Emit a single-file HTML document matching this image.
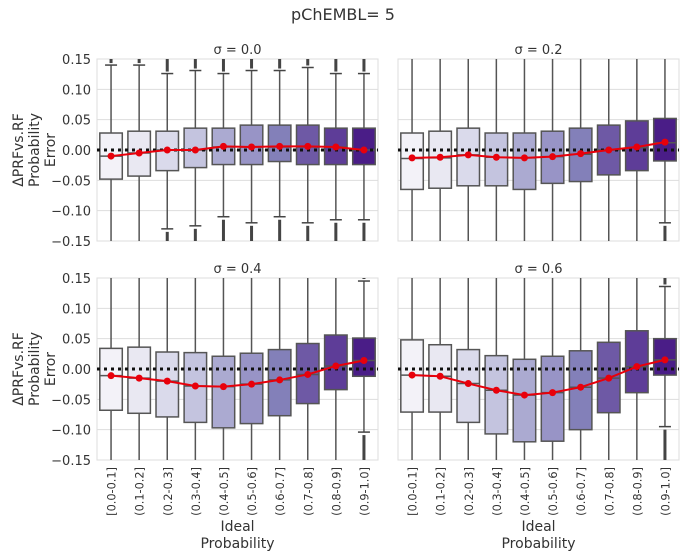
<!DOCTYPE html>
<html><head><meta charset="utf-8"><style>
body{margin:0;background:#fff;font-family:"Liberation Sans","DejaVu Sans",sans-serif;}
svg text{font-family:"DejaVu Sans","Liberation Sans",sans-serif;fill:#333;}
</style></head><body>
<svg id="c" width="685" height="553" xmlns="http://www.w3.org/2000/svg">
<text x="343" y="20" font-size="16" text-anchor="middle">pChEMBL= 5</text>
</svg>
<script>
const categories=["[0.0-0.1]","(0.1-0.2]","(0.2-0.3]","(0.3-0.4]","(0.4-0.5]","(0.5-0.6]","(0.6-0.7]","(0.7-0.8]","(0.8-0.9]","(0.9-1.0]"];
const yTicks=[0.15,0.10,0.05,0.00,-0.05,-0.10,-0.15];
const yTickLabels=["0.15","0.10","0.05","0.00","\u22120.05","\u22120.10","\u22120.15"];
const sigmas=["σ = 0.0","σ = 0.2","σ = 0.4","σ = 0.6"];
const q3=[[.028,.031,.031,.036,.036,.041,.041,.041,.036,.036],[.028,.031,.036,.028,.028,.031,.036,.041,.048,.052],[.034,.036,.028,.027,.021,.026,.032,.042,.056,.051],[.048,.040,.032,.022,.016,.021,.030,.044,.063,.050]];
const q1=[[-.048,-.043,-.034,-.029,-.024,-.024,-.019,-.024,-.024,-.024],[-.065,-.063,-.059,-.059,-.065,-.055,-.052,-.041,-.034,-.018],[-.068,-.073,-.079,-.088,-.097,-.090,-.077,-.057,-.034,-.012],[-.071,-.071,-.088,-.107,-.120,-.119,-.100,-.072,-.039,-.010]];
const medians=[[-.010,-.005,0,0,.005,.005,.005,.005,.005,0],[-.014,-.013,-.008,-.012,-.013,-.011,-.007,0,.004,.012],[-.011,-.015,-.020,-.028,-.029,-.025,-.018,-.009,.005,.014],[-.010,-.012,-.024,-.035,-.043,-.039,-.030,-.015,.004,.015]];
const means=[[-.010,-.005,0,0,.006,.005,.006,.006,.005,0],[-.013,-.012,-.008,-.012,-.013,-.011,-.006,0,.005,.013],[-.011,-.015,-.020,-.028,-.029,-.025,-.018,-.009,.005,.014],[-.010,-.012,-.024,-.035,-.043,-.039,-.030,-.015,.004,.015]];
const whiskHi=[[.140,.140,.126,.131,.126,.131,.131,.136,.126,.126],[.2,.2,.2,.2,.2,.2,.2,.2,.2,.2],[.2,.2,.2,.2,.2,.2,.2,.2,.2,.145],[.2,.2,.2,.2,.2,.2,.2,.2,.2,.136]];
const whiskLo=[[-.2,-.2,-.130,-.125,-.110,-.120,-.110,-.120,-.115,-.115],[-.2,-.2,-.2,-.2,-.2,-.2,-.2,-.2,-.2,-.120],[-.2,-.2,-.2,-.2,-.2,-.2,-.2,-.2,-.2,-.104],[-.2,-.2,-.2,-.2,-.2,-.2,-.2,-.2,-.2,-.095]];
const colors=["#f3f2f8","#e9e8f2","#dadaeb","#c4c4df","#abaad1","#9894c6","#8380b9","#6e59a5","#5e3d98","#4a1d87"];
const NS="http://www.w3.org/2000/svg";
const svg=document.getElementById('c');
function mk(t,a,p){const e=document.createElementNS(NS,t);for(const k in a)e.setAttribute(k,a[k]);(p||svg).appendChild(e);return e;}
const panels=[{x:97,y:59},{x:398,y:59},{x:97,y:278},{x:398,y:278}];
const W=281,H=182;
panels.forEach((p,pi)=>{
  const g=mk('g',{});
  
  
  const ys=v=>p.y+(0.15-Math.max(-0.15,Math.min(0.15,v)))/0.30*H;
  const xs=i=>p.x+(i+0.5)*W/10;
  mk('rect',{x:p.x,y:p.y,width:W,height:H,fill:'#fff',stroke:'#ddd','stroke-width':1},g);
  yTicks.forEach((t,ti)=>{
    mk('line',{x1:p.x,x2:p.x+W,y1:ys(t),y2:ys(t),stroke:'#ddd','stroke-width':1},g);
    if(p.x<200){const tx=mk('text',{x:p.x-6,y:ys(t)+5,'font-size':13,'text-anchor':'end'},g);tx.textContent=yTickLabels[ti];
      
      }
  });
  const tt=mk('text',{x:p.x+W/2,y:p.y-5,'font-size':13,'text-anchor':'middle'},g);tt.textContent=sigmas[pi];
  
  
  const bw=W/10*0.8;
  categories.forEach((c,i)=>{
    const x=xs(i);
    mk('line',{x1:x,x2:x,y1:ys(whiskHi[pi][i]),y2:ys(q3[pi][i]),stroke:'#555','stroke-width':1.5},g);
    mk('line',{x1:x,x2:x,y1:ys(q1[pi][i]),y2:ys(whiskLo[pi][i]),stroke:'#555','stroke-width':1.5},g);
    if(whiskHi[pi][i]<0.15){mk('line',{x1:x-6,x2:x+6,y1:ys(whiskHi[pi][i]),y2:ys(whiskHi[pi][i]),stroke:'#444','stroke-width':1.5},g);
      mk('rect',{x:x-1.5,y:ys(0.15),width:3,height:Math.max(0,ys(whiskHi[pi][i])-ys(0.15)-2),fill:'#444'},g);}
    if(whiskLo[pi][i]>-0.15){mk('line',{x1:x-6,x2:x+6,y1:ys(whiskLo[pi][i]),y2:ys(whiskLo[pi][i]),stroke:'#444','stroke-width':1.5},g);
      mk('rect',{x:x-1.5,y:ys(whiskLo[pi][i])+3,width:3,height:ys(-0.15)-ys(whiskLo[pi][i])-3,fill:'#444'},g);}
    const b=mk('rect',{x:x-bw/2,y:ys(q3[pi][i]),width:bw,height:ys(q1[pi][i])-ys(q3[pi][i]),fill:colors[i],stroke:'#555','stroke-width':1.5},g);
    
    
    mk('line',{x1:x-bw/2,x2:x+bw/2,y1:ys(medians[pi][i]),y2:ys(medians[pi][i]),stroke:'#555','stroke-width':1.5},g);
    if(pi>=2){const t=mk('text',{transform:`translate(${x+4.5},${p.y+H+7}) rotate(-90)`,'font-size':11.3,'text-anchor':'end'},g);t.textContent=c;
      
      }
  });
  mk('line',{x1:p.x,x2:p.x+W,y1:ys(0),y2:ys(0),stroke:'#111','stroke-width':3,'stroke-dasharray':'3,4'},g);
  const pts=means[pi].map((m,i)=>xs(i)+','+ys(m)).join(' ');
  mk('polyline',{points:pts,fill:'none',stroke:'#e8000b','stroke-width':2},g);
  means[pi].forEach((m,i)=>{const d=mk('circle',{cx:xs(i),cy:ys(m),r:3.5,fill:'#e8000b'},g);
    
    });
  if(p.x<200){const yl=mk('text',{transform:`translate(${p.x-58},${p.y+H/2}) rotate(-90)`,'font-size':14,'text-anchor':'middle'},g);
    ['ΔPRFvs.RF','Probability','Error'].forEach((s,k)=>{const ts=mk('tspan',{x:0,dy:k?16:-16},yl);ts.textContent=s;});
    
    }
  if(pi>=2){const xl=mk('text',{x:p.x+W/2,y:531,'font-size':14,'text-anchor':'middle'},g);
    ['Ideal','Probability'].forEach((s,k)=>{const ts=mk('tspan',{x:p.x+W/2,dy:k?17:0},xl);ts.textContent=s;});
    
    }
});
</script>
</body></html>
